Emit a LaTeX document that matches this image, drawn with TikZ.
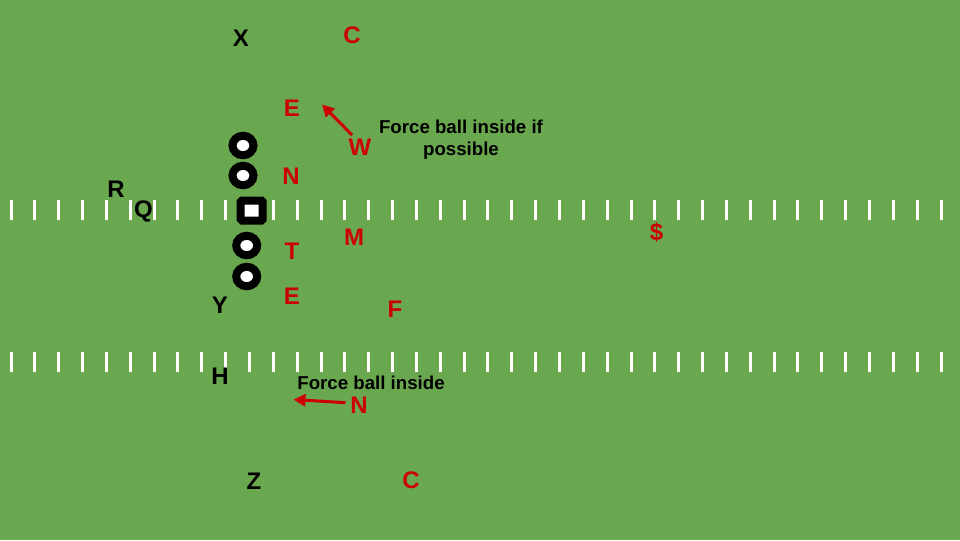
\documentclass[tikz,border=0pt]{standalone}
\usepackage{fontspec}
\setmainfont{Liberation Sans}
\usetikzlibrary{shapes.geometric,arrows.meta}
\definecolor{fieldgreen}{HTML}{6AA84F}
\definecolor{playred}{HTML}{CC0000}
\begin{document}
\begin{tikzpicture}[x=0.75pt,y=-0.75pt,
  lbl/.style={inner sep=0pt,font=\fontsize{18}{20}\selectfont\bfseries},
  off/.style={lbl,text=black},
  def/.style={lbl,text=playred},
  note/.style={inner sep=0pt,align=center,font=\fontsize{14}{16.5}\selectfont\bfseries,text=black},
  hash/.style={white,line width=2.25pt},
  lineman/.style={ellipse,draw=black,fill=white,line width=6pt,inner sep=0pt,minimum width=15.75pt,minimum height=14.6pt},
  center/.style={rectangle,draw=black,fill=white,line width=6pt,inner sep=0pt,minimum width=16.5pt,minimum height=15pt,rounded corners=1pt},
  forcearrow/.style={playred,line width=2.25pt,-{Triangle[length=9pt,width=9pt]}}
]
\useasboundingbox (0,0) rectangle (960,540);
\fill[fieldgreen] (0,0) rectangle (960,540);
% hash marks
\foreach \i in {0,...,39}{
  \draw[hash] ({11+\i*23.846},200) -- ({11+\i*23.846},220);
  \draw[hash] ({11+\i*23.846},352) -- ({11+\i*23.846},372);
}
% offensive line
\node[lineman] (lt) at (243,145.5) {};
\node[lineman] (lg) at (243,175.5) {};
\node[center] (c) at (251.7,210.5) {};
\node[lineman] (rg) at (246.7,245.5) {};
\node[lineman] (rt) at (246.7,276.5) {};
% offense
\node[off] (x) at (241,38) {X};
\node[off] (r) at (116,189) {R};
\node[off] (q) at (143.5,211) {Q};
\node[off] (y) at (220,305.5) {Y};
\node[off] (h) at (220,376.5) {H};
\node[off] (z) at (254,481) {Z};
% defense
\node[def] (c1) at (352,35) {C};
\node[def] (e1) at (292,108) {E};
\node[def] (w) at (360,147) {W};
\node[def] (n1) at (291,176) {N};
\node[def] (m) at (354,237) {M};
\node[def] (s) at (656.5,232) {\$};
\node[def] (t) at (292,251) {T};
\node[def] (e2) at (292,296) {E};
\node[def] (f) at (395,309) {F};
\node[def] (n2) at (359,405) {N};
\node[def] (c2) at (411,480) {C};
% notes
\node[note] (note1) at (461,140) {Force ball inside if\\possible};
\node[note] (note2) at (371,383) {Force ball inside};
% arrows
\coordinate (a1s) at (352,135);
\coordinate (a1e) at (322,104.5);
\coordinate (a2s) at (345.5,402.7);
\coordinate (a2e) at (293.5,399.5);
\draw[forcearrow] (a1s) -- (a1e);
\draw[forcearrow] (a2s) -- (a2e);
\end{tikzpicture}
\end{document}
